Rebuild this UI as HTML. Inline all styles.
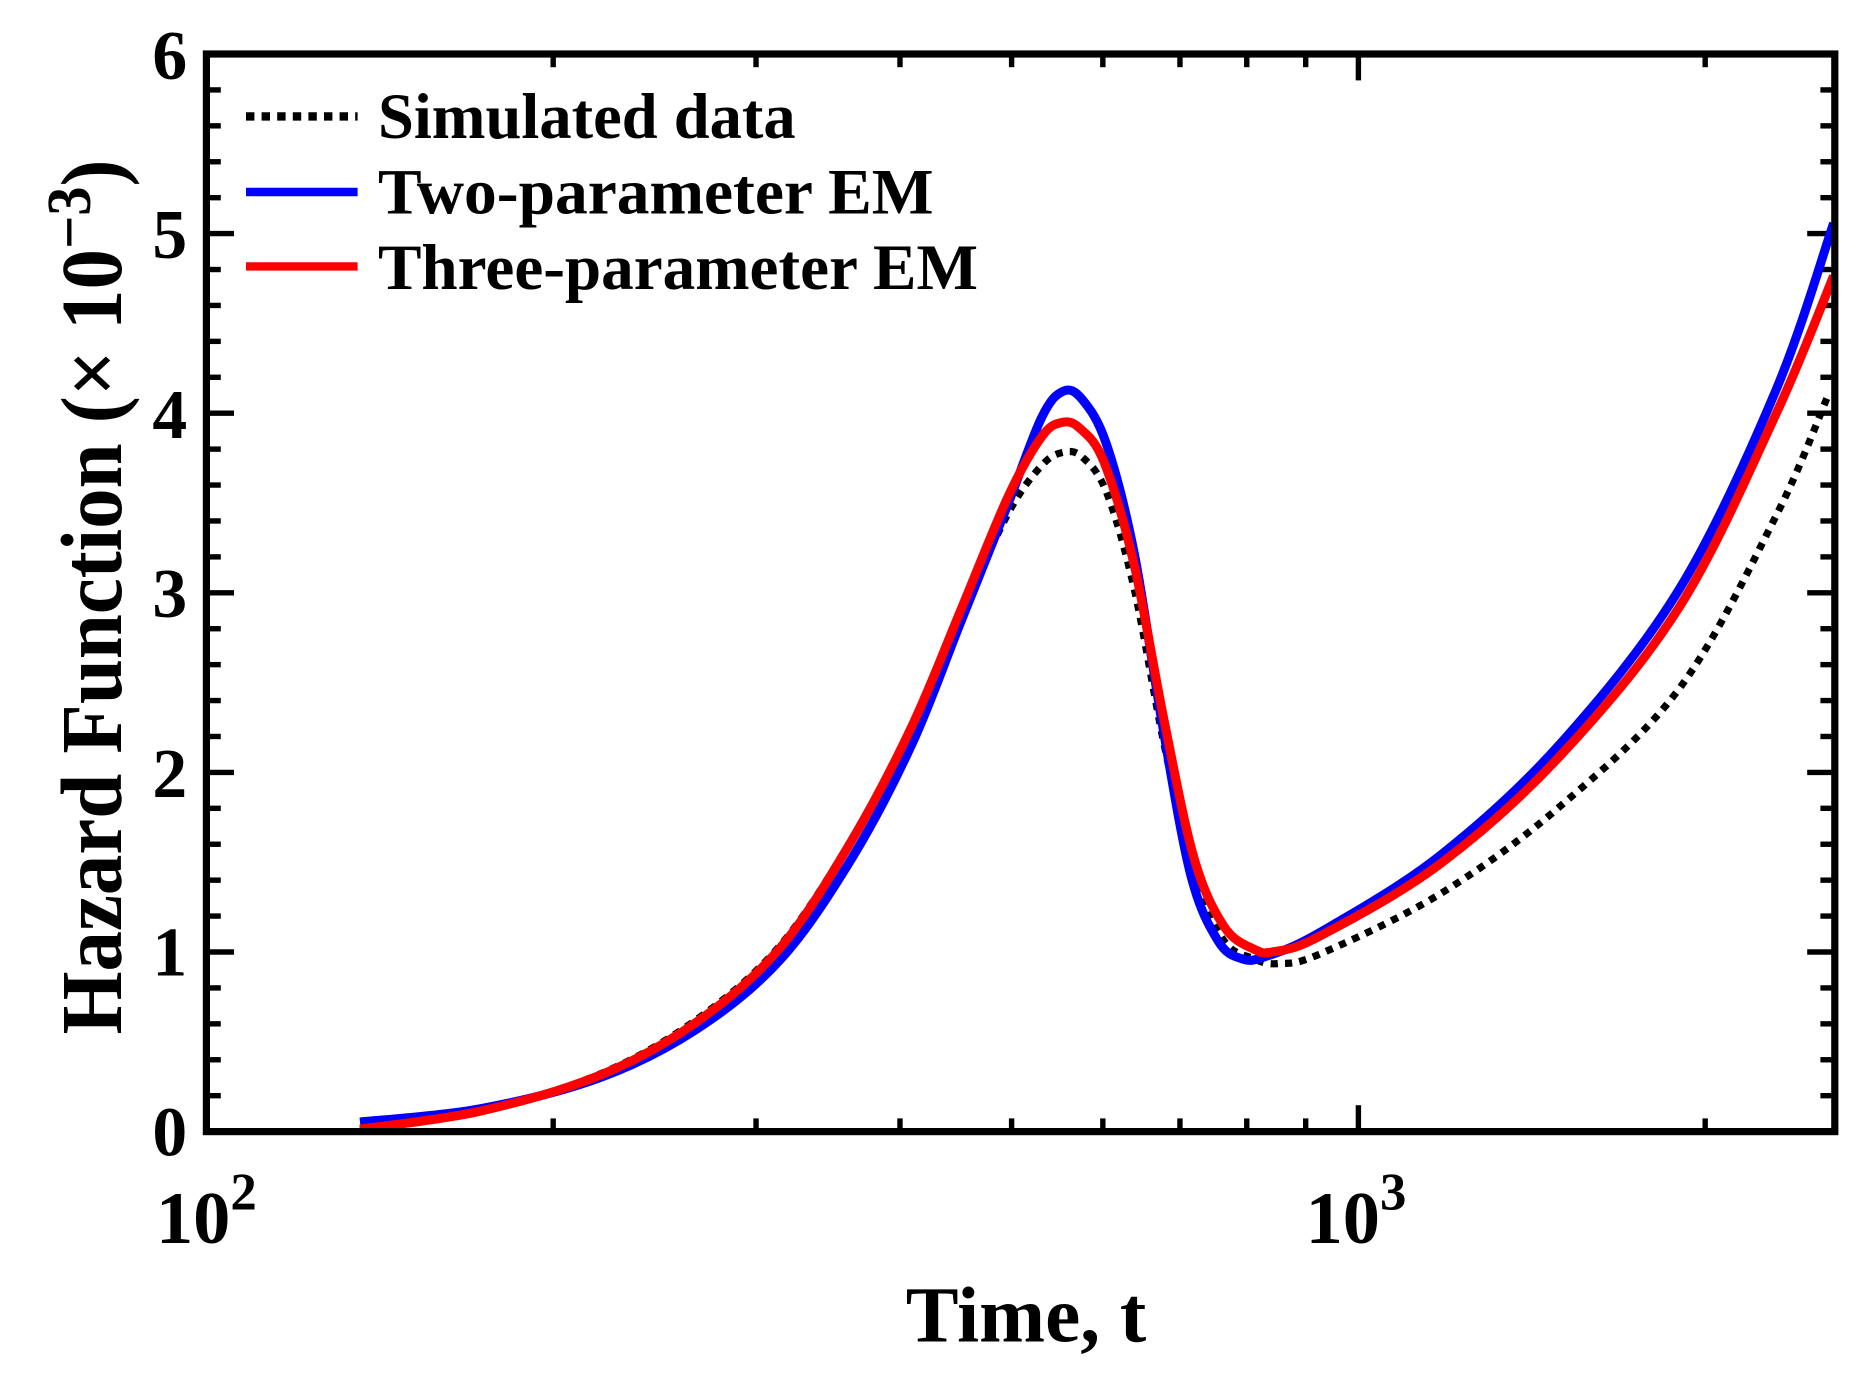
<!DOCTYPE html>
<html><head><meta charset="utf-8"><style>
html,body{margin:0;padding:0;background:#fff;}
svg{display:block;}
text{font-family:"Liberation Serif",serif;font-weight:bold;fill:#000;}
</style></head><body>
<svg id="s" width="1871" height="1374" viewBox="0 0 1559.17 1145" xmlns="http://www.w3.org/2000/svg">
<rect x="0" y="0" width="1559.17" height="1145" fill="#fff"/>
<g id="ticks" stroke="#000" stroke-width="4.5"></g>
<g id="curves" fill="none" stroke-linejoin="round"></g>
<rect x="172" y="45" width="1357" height="898" fill="none" stroke="#000" stroke-width="6"/>
<g font-size="58" text-anchor="end">
<text x="156" y="963">0</text>
<text x="156" y="813">1</text>
<text x="156" y="664">2</text>
<text x="156" y="514">3</text>
<text x="156" y="365">4</text>
<text x="156" y="215">5</text>
<text x="156" y="66">6</text>
</g>
<text x="130" y="1036" font-size="62">10<tspan dy="-28" font-size="44">2</tspan></text>
<text x="1088" y="1036" font-size="62">10<tspan dy="-28" font-size="44">3</tspan></text>
<text x="855" y="1118" font-size="66" text-anchor="middle">Time, t</text>
<text transform="translate(101,862) rotate(-90)" font-size="72" textLength="729" lengthAdjust="spacingAndGlyphs">Hazard Function (× 10<tspan dy="-26" font-size="52">−3</tspan><tspan dy="26">)</tspan></text>
<line x1="205" y1="97" x2="298" y2="97" stroke="#000" stroke-width="7" stroke-dasharray="7 6"/>
<line x1="205" y1="160" x2="298" y2="160" stroke="#0000ff" stroke-width="7"/>
<line x1="205" y1="222" x2="298" y2="222" stroke="#ff0000" stroke-width="7"/>
<text x="315" y="115" font-size="54" textLength="348" lengthAdjust="spacingAndGlyphs">Simulated data</text>
<text x="315" y="178" font-size="54" textLength="463" lengthAdjust="spacingAndGlyphs">Two-parameter EM</text>
<text x="315" y="241" font-size="54" textLength="500" lengthAdjust="spacingAndGlyphs">Three-parameter EM</text>
</svg>
<script>
(function(){
var NS="http://www.w3.org/2000/svg";
var L=172,R=1529,T=45,B=943;
var X=function(t){return 172+(Math.log10(t)-2)*960;};
var tk=document.getElementById('ticks');
function ln(x1,y1,x2,y2){var e=document.createElementNS(NS,'line');e.setAttribute('x1',x1);e.setAttribute('y1',y1);e.setAttribute('x2',x2);e.setAttribute('y2',y2);tk.appendChild(e);}
for(var i=0;i<=30;i++){var y=B-i*(B-T)/30;var len=(i%5==0)?23:12;ln(L,y,L+len,y);ln(R,y,R-len,y);}
[200,300,400,500,600,700,800,900,2000].forEach(function(t){var x=X(t);ln(x,B,x,B-11);ln(x,T,x,T+11);});
var x3=X(1000);ln(x3,B,x3,B-22);ln(x3,T,x3,T+22);
function cr(p){var d="M"+p[0][0]+","+p[0][1];for(var i=0;i<p.length-1;i++){var p0=p[i-1]||p[i],p1=p[i],p2=p[i+1],p3=p[i+2]||p2;
var c1=[p1[0]+(p2[0]-p0[0])/6,p1[1]+(p2[1]-p0[1])/6],c2=[p2[0]-(p3[0]-p1[0])/6,p2[1]-(p3[1]-p1[1])/6];
d+=" C"+c1[0].toFixed(1)+","+c1[1].toFixed(1)+" "+c2[0].toFixed(1)+","+c2[1].toFixed(1)+" "+p2[0]+","+p2[1];}return d;}
var red=[[300,941],[400,926],[500,896],[580,852],[650,790],[710,700],[760,605],[800,510],[840,414],[868,364],[885,352],[900,357],[920,385],[945,470],[970,600],[995,715],[1020,772],[1045,791],[1062,793],[1100,780],[1200,720],[1300,630],[1400,505],[1480,345],[1528,230]];
var blue=[[300,935],[400,924],[500,898],[580,858],[650,800],[710,715],[760,620],[800,520],[840,420],[868,348],[886,326],[902,333],[922,370],[945,460],[968,600],[992,728],[1015,784],[1035,799],[1055,797],[1100,777],[1200,713],[1300,620],[1400,490],[1480,325],[1528,186]];
var blk=[[300,941],[400,926],[500,895],[580,850],[650,788],[710,699],[760,606],[800,514],[840,428],[868,388],[886,377],[902,381],[922,410],[945,490],[970,620],[995,728],[1020,784],[1045,799],[1065,803],[1100,795],[1200,745],[1300,672],[1400,573],[1480,430],[1524,328]];
var g=document.getElementById('curves');
function add(p,c,w,dash){var e=document.createElementNS(NS,'path');e.setAttribute('d',cr(p));e.setAttribute('stroke',c);e.setAttribute('stroke-width',w);if(dash)e.setAttribute('stroke-dasharray',dash);g.appendChild(e);}
add(blk,'#000','6','6 6');add(blue,'#0000ff','7.5');add(red,'#ff0000','7.5');
})();
</script>
</body></html>
